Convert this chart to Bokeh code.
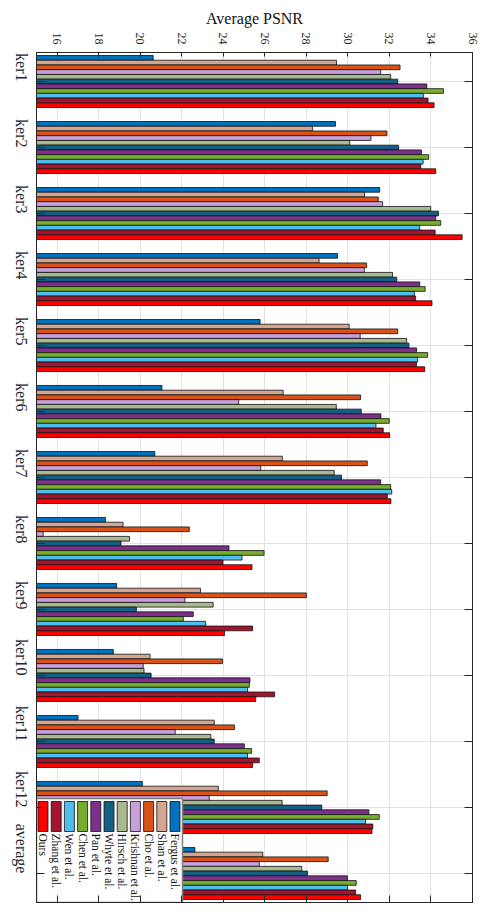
import math
from bokeh.plotting import figure
from bokeh.models import Range1d, LinearAxis, FixedTicker, ColumnDataSource
from bokeh.core.properties import value
from bokeh.embed import file_html
from bokeh.resources import INLINE

# ---------------- data ----------------
groups = ["ker1", "ker2", "ker3", "ker4", "ker5", "ker6", "ker7", "ker8",
          "ker9", "ker10", "ker11", "ker12", "average"]
x_ticks = [16, 18, 20, 22, 24, 26, 28, 30, 32, 34, 36]

methods = ["Fergus et al.", "Shan et al.", "Cho et al.", "Krishnan et al.",
           "Hirsch et al.", "Whyte et al.", "Pan et al.", "Chen et al.",
           "Wen et al.", "Zhang et al.", "Ours"]
colors = ["#0072BD", "#D4A590", "#D95319", "#C9A0DC", "#A8B88F", "#155F83",
          "#7E2F8E", "#77AC30", "#4DBEEE", "#A2142F", "#FF0000"]

fergus   = [20.62, 29.40, 31.53, 29.50, 25.77, 21.04, 20.70, 18.32, 18.86, 18.70, 17.00, 20.10, 22.63]
shan     = [29.45, 28.29, 30.80, 28.61, 30.06, 26.88, 26.84, 19.17, 22.90, 20.47, 23.56, 23.76, 25.90]
cho      = [32.51, 31.88, 31.46, 30.90, 32.40, 30.61, 30.93, 22.36, 28.00, 23.96, 24.53, 29.00, 29.05]
krishnan = [31.58, 31.11, 31.67, 30.79, 30.59, 24.74, 25.80, 15.32, 22.15, 20.14, 21.68, 23.32, 25.73]
hirsch   = [32.06, 30.09, 33.99, 32.15, 32.83, 29.44, 29.34, 19.48, 23.51, 20.18, 23.40, 26.83, 27.78]
whyte    = [32.40, 32.44, 34.36, 32.35, 32.94, 30.64, 29.69, 19.07, 19.81, 20.52, 23.56, 28.74, 28.05]
pan      = [33.80, 33.54, 34.23, 33.46, 33.31, 31.59, 31.58, 24.27, 22.55, 25.28, 25.01, 31.01, 29.98]
chen     = [34.60, 33.89, 34.47, 33.72, 33.84, 31.99, 32.06, 25.96, 22.07, 25.25, 25.36, 31.51, 30.40]
wen      = [33.63, 33.62, 33.46, 33.20, 33.36, 31.35, 32.11, 24.90, 23.14, 25.17, 25.16, 30.85, 29.98]
zhang    = [33.86, 33.51, 34.20, 33.26, 33.30, 31.70, 31.90, 23.98, 25.41, 26.47, 25.73, 31.20, 30.37]
ours     = [34.15, 34.23, 35.50, 34.05, 33.70, 32.01, 32.07, 25.38, 24.06, 25.56, 25.41, 31.16, 30.61]

series = [fergus, shan, cho, krishnan, hirsch, whyte, pan, chen, wen, zhang, ours]

# ---------------- figure ----------------
X0, X1 = 15, 36
Y0, Y1 = -0.44, 12.44
W, H = 503, 918
ML, MR, MT, MB = 36, 31, 52, 16
FONT = "Liberation Serif"
AX = "#262626"

p = figure(width=W, height=H, x_range=Range1d(X0, X1), y_range=Range1d(Y0, Y1),
           x_axis_location="above", output_backend="svg", toolbar_location=None,
           min_border_left=ML, min_border_right=MR, min_border_top=MT,
           min_border_bottom=MB)
p.background_fill_color = "white"
p.border_fill_color = "white"
p.outline_line_color = AX
p.outline_line_width = 1

n = len(groups)
ypos = [n - 1 - g for g in range(n)]   # ker1 at top
ticks_y = sorted(ypos)

# top x axis
xa = p.xaxis[0]
xa.ticker = FixedTicker(ticks=x_ticks)
xa.major_label_orientation = -math.pi / 2
xa.major_label_text_font = FONT
xa.major_label_text_font_size = "12px"
xa.major_label_text_color = AX
xa.major_label_standoff = 8
xa.major_tick_in = 4
xa.major_tick_out = 0
xa.minor_tick_in = 0
xa.minor_tick_out = 0
xa.axis_line_color = AX
xa.major_tick_line_color = AX
xa.axis_label = "Average PSNR"
xa.axis_label_text_font = FONT
xa.axis_label_text_font_size = "16px"
xa.axis_label_text_font_style = "normal"
xa.axis_label_text_color = "#111111"
xa.axis_label_standoff = 3

# left y axis
ya = p.yaxis[0]
ya.ticker = FixedTicker(ticks=ticks_y)
ya.major_label_overrides = {ypos[g]: groups[g] for g in range(n)}
ya.major_label_orientation = -math.pi / 2
ya.major_label_text_font = FONT
ya.major_label_text_font_size = "16px"
ya.major_label_text_color = AX
ya.major_label_standoff = 15
ya.major_tick_in = 8
ya.major_tick_out = 0
ya.minor_tick_in = 0
ya.minor_tick_out = 0
ya.axis_line_color = AX
ya.major_tick_line_color = AX

# bottom and right axes: tick marks only (drawn as minor ticks, no labels)
bx = LinearAxis(ticker=FixedTicker(ticks=[], minor_ticks=x_ticks),
                major_tick_in=0, major_tick_out=0, major_label_standoff=0,
                minor_tick_in=7, minor_tick_out=0, axis_line_color=AX,
                minor_tick_line_color=AX)
p.add_layout(bx, "below")
ry = LinearAxis(ticker=FixedTicker(ticks=[], minor_ticks=ticks_y),
                major_tick_in=0, major_tick_out=0, major_label_standoff=0,
                minor_tick_in=8, minor_tick_out=0, axis_line_color=AX,
                minor_tick_line_color=AX)
p.add_layout(ry, "right")

p.xgrid.ticker = FixedTicker(ticks=x_ticks)
p.ygrid.ticker = FixedTicker(ticks=ticks_y)
p.xgrid.grid_line_color = "#e2e2e2"
p.ygrid.grid_line_color = "#e2e2e2"

# ---------------- bars ----------------
m = len(methods)
pitch = 0.0717
for j in range(m):
    off = ((m - 1) / 2 - j) * pitch
    src = ColumnDataSource(dict(y=[yp + off for yp in ypos], right=series[j]))
    p.hbar(y="y", right="right", left=0, height=pitch, source=src,
           fill_color=colors[j], line_color="#111111", line_width=0.8)

# ---------------- legend (rotated, drawn manually) ----------------
frame_w = W - ML - MR
frame_h = H - MT - MB
def px_x(dx):   # pixels from frame left -> data x
    return X0 + dx * (X1 - X0) / frame_w
def px_y(dy):   # pixels from frame top -> data y
    return Y1 - dy * (Y1 - Y0) / frame_h

leg_left, leg_right = 0, 146
leg_top, leg_bot = 746, frame_h
p.quad(left=[px_x(leg_left)], right=[px_x(leg_right)], top=[px_y(leg_top)],
       bottom=[px_y(leg_bot)], fill_color="white", line_color="#7f7f7f",
       line_width=1.5)

order = list(range(m - 1, -1, -1))  # Ours first (left) ... Fergus last
sx = [px_x(6.5 + k * 13.2) for k in range(m)]
p.rect(x=sx, y=[px_y(764)] * m, width=px_x(10) - X0,
       height=(Y1 - Y0) * 30 / frame_h,
       fill_color=[colors[j] for j in order], line_color="#111111", line_width=0.8)
p.text(x=sx, y=[px_y(781)] * m, text=[methods[j] for j in order],
       angle=-math.pi / 2, text_align="left", text_baseline="middle",
       text_font=value(FONT), text_font_size="11.5px", text_color="#111111")

open("out.html", "w").write(file_html(p, INLINE))
